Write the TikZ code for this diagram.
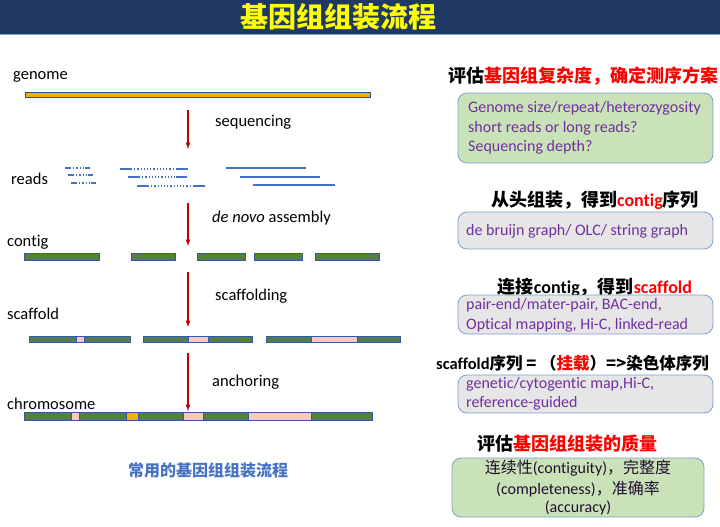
\documentclass[tikz,border=0pt]{standalone}
\usepackage{fontspec}
\setmainfont[Ligatures=NoCommon]{Carlito}
\newfontfamily\cjk{Noto Sans CJK SC}
\definecolor{navy}{HTML}{1F3864}
\definecolor{ttl}{HTML}{FFFF00}
\definecolor{gold}{HTML}{F0B000}
\definecolor{rblue}{HTML}{4472C4}
\definecolor{cgreen}{HTML}{548235}
\definecolor{peach}{HTML}{F8CBAD}
\definecolor{pbox}{HTML}{C9E2B8}
\definecolor{gbox}{HTML}{E7E6E6}
\definecolor{bbord}{HTML}{7F9FCF}
\definecolor{purp}{HTML}{7030A0}
\definecolor{ared}{HTML}{C00000}
\begin{document}
\begin{tikzpicture}[x=1pt,y=-1pt,
  lbl/.style={anchor=west,font=\fontsize{16.5}{18}\selectfont,inner sep=0},
  arr/.style={ared,line width=1.2pt,-latex},
  seg/.style={draw=rblue!80!black,line width=0.5pt},
  rd/.style={rblue,line width=2.5pt},
  rdd/.style={rblue,line width=1.2pt,dotted},
  head/.style={font=\fontsize{18}{20}\selectfont\bfseries,inner sep=0},
  ibox/.style={draw=bbord,rounded corners=9pt,line width=0.8pt},
  itxt/.style={anchor=west,text=purp,font=\fontsize{16}{18}\selectfont,inner sep=0},
  qtxt/.style={text=purp!30!black,font=\fontsize{16}{18}\selectfont,inner sep=0}]
\useasboundingbox (0,0) rectangle (720,527);
\fill[white] (0,0) rectangle (720,527);
\fill[navy] (0,0) rectangle (720,34);
\draw[bbord,line width=1pt] (0,34.5) -- (720,34.5);
\node[text=ttl,font=\cjk\fontsize{28}{30}\selectfont\bfseries] (title) at (338,17) {基因组组装流程};
% left labels
\node[lbl] (lg) at (13,77) {genome};
\node[lbl] (lr) at (11,179) {reads};
\node[lbl] (lc) at (7,242) {contig};
\node[lbl] (ls) at (7,314) {scaffold};
\node[lbl] (lch) at (7,404) {chromosome};
% genome bar
\filldraw[fill=gold,draw=rblue!70!black,line width=0.4pt] (25,92) rectangle (370,97);
% arrows
\coordinate (a1) at (188,110); \coordinate (b1) at (188,149);
\coordinate (a2) at (188,203); \coordinate (b2) at (188,246);
\coordinate (a3) at (188,272); \coordinate (b3) at (188,327);
\coordinate (a4) at (188,353); \coordinate (b4) at (188,411);
\draw[arr] (a1) -- (b1); \draw[arr] (a2) -- (b2);
\draw[arr] (a3) -- (b3); \draw[arr] (a4) -- (b4);
\node[lbl] (t1) at (215,122) {sequencing};
\node[lbl] (t2) at (212,218) {\textit{de novo} assembly};
\node[lbl] (t3) at (215,296) {scaffolding};
\node[lbl] (t4) at (212,382) {anchoring};
% reads
\foreach \x/\y/\l in {65/168/90, 68/175/93, 71/183/96}{
  \draw[rd] (\x,\y) -- (\x+5,\y); \draw[rdd] (\x+5,\y) -- (\l-5,\y); \draw[rd] (\l-5,\y) -- (\l,\y);}
\foreach \x/\y/\l in {120/169/188, 128/177/187, 137/186/205}{
  \draw[rd] (\x,\y) -- (\x+11,\y); \draw[rdd] (\x+11,\y) -- (\l-11,\y); \draw[rd] (\l-11,\y) -- (\l,\y);}
\foreach \x/\y/\l in {226/168/306, 240/177/320, 253/185/335}{
  \draw[rd] (\x,\y) -- (\l,\y);}
% contigs
\foreach \a/\b in {24/99,131/175,197/245,254/302,315/379}
  \filldraw[fill=cgreen,seg] (\a,253) rectangle (\b,260);
% scaffolds
\foreach \a/\b/\c in {29/76/cgreen,76/84/peach,84/130/cgreen,143/188/cgreen,188/208/peach,208/252/cgreen,266/311/cgreen,311/357/peach,357/400/cgreen}
  \filldraw[fill=\c,seg] (\a,336) rectangle (\b,342);
% chromosome
\foreach \a/\b/\c in {24/71/cgreen,71/79/peach,79/126/cgreen,126/138/gold,138/183/cgreen,183/203/peach,203/248/cgreen,248/311/peach,311/372/cgreen}
  \filldraw[fill=\c,seg] (\a,412) rectangle (\b,420);
\node[text=rblue,font=\cjk\fontsize{16}{18}\selectfont\bfseries] (cap) at (208,470) {常用的基因组组装流程};
% right side
\node[head,anchor=west] (h1) at (448,76) {\cjk 评估\textcolor{red}{基因组复杂度，确定测序方案}};
\draw[ibox,fill=pbox] (458,93) rectangle (713,163);
\node[itxt] (b1a) at (468,108) {Genome size/repeat/heterozygosity};
\node[itxt] (b1b) at (468,128) {short reads or long reads?};
\node[itxt] (b1c) at (468,147) {Sequencing depth?};
\node[head] (h2) at (595,200) {\cjk 从头组装，得到\textcolor{red}{\rmfamily contig}序列};
\draw[ibox,fill=gbox] (458,212) rectangle (713,249);
\node[itxt] (b2a) at (466,231) {de bruijn graph/ OLC/ string graph};
\node[head] (h3) at (595,287) {\cjk 连接{\rmfamily contig}，得到\textcolor{red}{\rmfamily scaffold}};
\draw[ibox,fill=gbox] (458,295) rectangle (713,334);
\node[itxt] (b3a) at (466,305) {pair-end/mater-pair, BAC-end,};
\node[itxt] (b3b) at (466,325) {Optical mapping, Hi-C, linked-read};
\node[head,anchor=west,font=\fontsize{16.5}{18}\selectfont\bfseries] (h4) at (436,363) {{\rmfamily scaffold}\cjk 序列 = （\textcolor{red}{挂载}）=>染色体序列};
\draw[ibox,fill=gbox] (458,375) rectangle (713,413);
\node[itxt] (b4a) at (466,384) {genetic/cytogentic map,Hi-C,};
\node[itxt] (b4b) at (466,403) {reference-guided};
\node[head] (h5) at (567,444) {\cjk 评估\textcolor{red}{基因组组装的质量}};
\draw[ibox,fill=pbox] (452,458) rectangle (704,517);
\node[qtxt] (b5a) at (578,468) {{\cjk 连续性}(contiguity){\cjk ，完整度}};
\node[qtxt] (b5b) at (578,489) {(completeness){\cjk ，准确率}};
\node[qtxt] (b5c) at (578,508) {(accuracy)};
\end{tikzpicture}
\end{document}
